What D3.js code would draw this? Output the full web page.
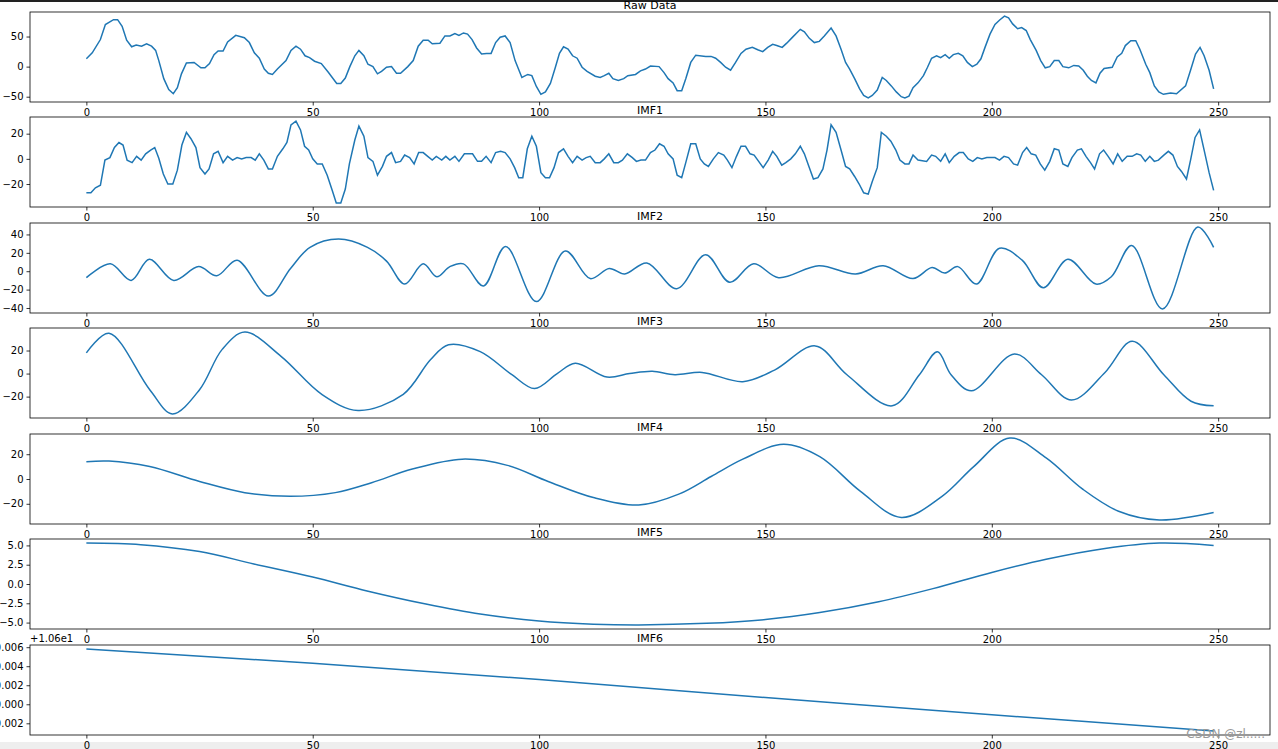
<!DOCTYPE html>
<html>
<head>
<meta charset="utf-8">
<script src="https://cdn.jsdelivr.net/npm/d3@7"></script>
<style>
body { margin: 0; background: #fff; }
text { font-family: "DejaVu Sans", sans-serif; }
</style>
</head>
<body>
<svg id="chart" width="1278" height="749"></svg>
<script>
// values, [sample index, value]
var rawData = [[0,13],[1.3,23],[3.1,45],[4.2,70],[6,78],[6.9,78],[7.9,67],[8.9,44],[10,33],[11,36],[12.2,34],[13.3,38],[14.4,34],[15.3,27],[16,10],[17.1,-20],[18.2,-38],[19.2,-45],[20.1,-35],[21,-12],[22.1,6],[23.8,7],[25.3,-2],[26.2,-2],[27.2,5],[28.2,20],[29.1,26],[30.2,26],[31.2,41],[33,52],[34.9,48],[36,40],[37.1,23],[38.2,14],[39.3,-4],[40.2,-11],[41.1,-13],[42.2,-4],[44.1,10],[45.2,27],[46.3,34],[47.3,29],[48.3,18],[49.3,15],[50.4,9],[51.9,5],[53.4,-9],[55.3,-28],[56.2,-28],[57.2,-19],[58.2,0],[59.3,18],[60.2,27],[61.3,18],[62.2,4],[63.3,0],[64.3,-12],[65.2,-8],[66.3,-1],[67.4,0],[68.5,-11],[69.4,-11],[71,0],[72.2,10],[73.3,34],[74.4,44],[75.5,44],[76.4,38],[78.1,39],[79.2,51],[80.3,51],[81.4,55],[82.3,52],[83.3,56],[84.2,54],[85.2,45],[86.2,31],[87.3,21],[88.4,22],[89.4,22],[90.4,40],[91.4,49],[92.5,51],[93.6,40],[94.7,10],[96.2,-18],[97.5,-13],[98.4,-15],[99.4,-33],[100.4,-46],[101.4,-42],[102.5,-28],[103.6,-1],[104.5,22],[105.4,33],[106.4,29],[107.4,18],[108.4,14],[109.5,-1],[110.6,-8],[112.4,-16],[113.5,-18],[114.4,-15],[115.4,-11],[116.3,-20],[117.5,-23],[118.7,-20],[119.6,-15],[121.3,-13],[122.4,-7],[123.5,-4],[124.6,1],[126.5,0],[127.6,-10],[128.5,-20],[129.6,-27],[130.5,-40],[131.5,-40],[132.4,-20],[133.5,7],[134.6,19],[136.8,17],[138,17],[139,14],[140.1,7],[141.2,-1],[142.3,-6],[143.4,7],[144.6,22],[145.7,29],[147.1,32],[148.3,28],[149.4,25],[150.5,32],[151.6,37],[152.5,35],[153.7,32],[154.7,39],[156,49],[157.7,62],[158.6,58],[159.7,47],[160.8,40],[161.9,42],[163,51],[164.5,64],[165.6,51],[166.7,29],[167.7,7],[168.6,-4],[169.7,-20],[170.8,-37],[171.7,-48],[172.7,-52],[173.6,-48],[174.7,-39],[175.8,-18],[176.7,-23],[177.8,-32],[178.9,-42],[180,-50],[180.8,-52],[181.7,-49],[182.6,-35],[183.7,-27],[184.9,-15],[185.8,-1],[186.7,14],[187.8,18],[188.7,15],[189.7,20],[190.6,14],[191.5,20],[192.6,22],[193.6,18],[194.6,7],[195.7,0],[196.7,4],[197.6,13],[198.5,32],[199.6,54],[200.7,70],[201.8,78],[202.8,84],[203.7,81],[204.6,71],[205.7,63],[206.6,65],[207.6,60],[208.5,45],[209.8,27],[210.8,10],[211.8,-2],[212.8,0],[213.8,10],[214.8,10],[215.7,0],[217,-2],[218.1,2],[219.2,1],[220.2,-6],[221.1,-16],[222,-23],[223,-27],[223.9,-11],[224.8,-3],[226.6,-1],[227.7,16],[228.7,22],[229.5,35],[230.7,43],[231.8,43],[232.7,29],[234,4],[234.9,-10],[235.9,-32],[236.9,-42],[237.9,-46],[239.5,-44],[240.8,-45],[242.8,-32],[243.9,-6],[245,21],[246,32],[246.9,18],[248,-6],[249,-37]];

var imf1 = [[0,-27],[1,-27],[2,-23],[3.1,-21],[4.1,-1],[5.2,1],[6.2,9],[7.2,13],[8.1,11],[9,-1],[10.1,-3],[11.1,2],[12.1,-1],[13.1,4],[14.2,7],[15.1,9],[16,0.5],[17,-12],[18,-20],[19.1,-20],[20.1,-9],[21.1,11],[22.1,21],[23.1,16],[24.2,9],[25.1,-7],[26.2,-12],[27.1,-8],[28.1,4],[29.1,6],[30.2,-3],[31.2,2],[32.3,-1],[33.3,1],[34.3,0],[35.3,1],[36.4,1],[37.3,-1],[38.2,4],[39.2,-1],[40.2,-8],[41.1,-8],[42.2,2],[43.4,8],[44.3,13],[45.2,27],[46.3,30],[47.3,23],[48.2,10],[49.1,7],[50,0],[51,-4],[52.1,-4],[53.2,-13],[54.3,-25],[55.2,-35],[56.2,-35],[57.2,-24],[58.1,-4],[59.3,15],[60.2,26],[61.3,18],[62.2,1],[63.3,-2],[64.3,-13],[65.4,-6],[66.3,2],[67.4,5],[68.3,-3],[69.4,-2],[70.3,3],[71.4,1],[72.4,-4],[73.4,5],[74.4,5],[75.4,2],[76.4,-1],[77.3,2],[78.5,-1],[79.4,2],[80.3,-1],[81.4,2],[82.3,-2],[83.5,4],[85.3,4],[86.4,-2],[87.3,-2],[88.3,2],[89.4,-3],[90.4,5],[91.5,6],[92.5,5],[93.6,0],[94.6,-7],[95.5,-15],[96.4,-15],[97.4,8],[98.4,18],[99.4,10],[100.4,-11],[101.4,-15],[102.3,-15],[103.3,-7],[104.3,5],[105.4,8],[106.4,2],[107.4,-3],[108.4,2],[109.5,-1],[110.4,1],[111.3,2],[112.4,-3],[113.5,-3],[114.4,0],[115.4,4],[116.5,-3],[117.5,-3],[118.4,-1],[119.5,4],[120.6,1],[121.5,-2],[122.5,-1],[123.5,-1],[124.6,5],[125.6,7],[126.6,12],[127.6,10],[128.5,4],[129.6,0],[130.5,-13],[131.5,-15],[132.4,-3],[133.5,12],[134.6,12],[135.6,0],[136.5,-4],[137.4,-6],[138.5,0],[139.6,5],[140.8,3],[141.6,-1],[142.6,-7],[143.6,2],[144.6,10],[145.6,10],[146.6,4],[147.5,3],[148.5,-2],[149.5,-7],[150.6,-1],[151.6,6],[152.5,2],[153.6,-5],[154.5,-3],[155.6,0],[156.6,4],[157.7,10],[158.6,4],[159.6,-6],[160.6,-16],[161.6,-15],[162.7,-8],[163.6,7],[164.5,27],[165.6,21],[166.7,7],[167.7,-6],[168.6,-8],[169.7,-14],[170.7,-20],[171.7,-27],[172.7,-28],[173.6,-18],[174.7,-7],[175.6,21],[176.7,18],[177.7,14],[178.8,7],[179.7,-1],[180.8,-4],[181.7,-4],[182.6,3],[183.7,-1],[185.6,-2],[186.7,3],[187.6,2],[188.7,-2],[189.7,4],[190.6,-3],[191.7,2],[192.8,5],[193.7,5],[194.8,0],[195.8,-2],[196.8,1],[197.8,0],[198.9,1],[200.7,1],[201.7,-1],[202.7,2],[203.7,1],[204.8,-4],[205.7,-5],[206.8,5],[207.7,9],[208.7,4],[209.7,3],[210.7,-4],[211.7,-9],[212.8,-2],[213.8,8],[214.8,7],[215.7,-4],[216.8,-6],[217.7,1],[218.9,7],[219.8,8],[220.8,2],[221.8,-3],[222.7,-8],[223.8,4],[224.7,7],[225.7,2],[226.8,-4],[227.8,4],[228.8,-2],[229.9,2],[231,2],[232,4],[232.9,3],[233.9,-2],[234.9,2],[235.9,-2],[236.8,-1],[238,3],[239,6],[240,3],[241,-6],[241.9,-10],[243,-16],[243.9,-1],[244.9,17],[245.9,23],[246.9,7],[248,-11],[249,-25]];

var imf2 = [[0,-7],[5.3,8],[9.9,-10],[13.9,13],[19.3,-10],[24.8,5],[28.8,-5],[33.3,12],[40.2,-27],[45.1,3],[49.4,26],[55.7,35],[62.1,26],[66.3,11],[70.3,-14],[74.4,8],[77.4,-6],[80.3,5],[83.3,8],[87.7,-16],[92.6,27],[99.4,-33],[105.8,22],[111.3,-8],[115.5,3],[118.9,-3],[123.8,9],[130.4,-19],[136.8,18],[142.1,-12],[147.4,8],[152.9,-7],[161.8,6],[169.9,-3],[176,6],[182.6,-8],[186.8,4],[189.6,-2],[192.5,5],[196.6,-14],[201.7,25],[206.7,12],[211.4,-18],[216.8,13],[223,-14],[226.4,-6],[230.9,28],[237.7,-41],[245.5,48],[249,26]];

var imf3 = [[0,18],[5,35],[14,-14],[19,-35],[25,-14],[30,21],[35,36],[43,15],[52,-18],[60,-32],[70,-18],[76,12],[80,25],[87,19],[94,-1],[99,-13],[104,0],[108,9],[115,-3],[120,0],[125,2],[130,-1],[136,1],[145,-7],[152,3],[161,24],[168,-1],[178,-28],[184,-1],[188,19],[191,-1],[195.5,-15],[205,17],[211,-1],[217.6,-23],[225,1],[231,28],[238,-1],[244,-24],[249,-28]];

var imf4 = [[0,14],[5,14.5],[14,10],[25,-2],[35,-11],[45,-14],[55,-11],[63,-3],[72,8],[83,16],[93,11],[102,-2],[112,-15],[122,-21],[131,-12],[138,2],[145,16],[154,28],[162,18],[171,-10],[180,-31],[189,-14],[196,10],[204,33],[212,17],[220,-8],[228,-26],[237,-33],[249,-27]];

var imf5 = [[0,5.3],[12,5.1],[25,4.2],[37,2.6],[50,0.9],[62,-0.9],[75,-2.6],[87,-3.9],[100,-4.8],[112,-5.2],[122,-5.3],[137,-5.1],[150,-4.6],[162,-3.7],[175,-2.3],[187,-0.6],[200,1.5],[212,3.2],[225,4.6],[237,5.3],[249,5.0]];

// offset +10.6 shown on the axis
var imf6 = [[0,0.0058],[50,0.0043],[100,0.0026],[150,0.0007],[200,-0.0011],[249,-0.0028]];

var panelTitles = ["Raw Data", "IMF1", "IMF2", "IMF3", "IMF4", "IMF5", "IMF6"];
var xTicks = [0, 50, 100, 150, 200, 250];
var yTicks = [
  [-50, 0, 50],
  [-20, 0, 20],
  [-40, -20, 0, 20, 40],
  [-20, 0, 20],
  [-20, 0, 20],
  [-5, -2.5, 0, 2.5, 5],
  [-0.002, 0, 0.002, 0.004, 0.006]
];
var yFormats = [d3.format("d"), d3.format("d"), d3.format("d"), d3.format("d"), d3.format("d"), d3.format(".1f"), d3.format(".3f")];

var series = [rawData, imf1, imf2, imf3, imf4, imf5, imf6];
var smooth = d3.curveCatmullRom.alpha(0.5);
var curves = [d3.curveLinear, d3.curveLinear, smooth, smooth, smooth, smooth, smooth];

var svg = d3.select("#chart");
var left = 30, right = 1270, ph = 90;
var tops = [12, 117, 223, 328, 434, 539, 645];

svg.append("rect").attr("x", 0).attr("y", 0).attr("width", 1278).attr("height", 2).attr("fill", "#222");
svg.append("rect").attr("x", 0).attr("y", 742).attr("width", 1278).attr("height", 7).attr("fill", "#eee");

var x = d3.scaleLinear().domain([-12.45, 261.45]).range([left, right]);

series.forEach(function(data, k) {
  var top = tops[k];
  var ext = d3.extent(data, function(d) { return d[1]; });
  var pad = (ext[1] - ext[0]) * 0.05;
  var y = d3.scaleLinear().domain([ext[0] - pad, ext[1] + pad]).range([top + ph, top]);
  var g = svg.append("g");

  g.append("path")
    .datum(data)
    .attr("fill", "none")
    .attr("stroke", "#1f77b4")
    .attr("stroke-width", 1.5)
    .attr("d", d3.line().x(function(d) { return x(d[0]); }).y(function(d) { return y(d[1]); }).curve(curves[k]));

  var xa = g.append("g").attr("transform", "translate(0," + (top + ph) + ")")
    .call(d3.axisBottom(x).tickValues(xTicks).tickSize(3.5).tickPadding(3).tickFormat(d3.format("d")));
  var ya = g.append("g").attr("transform", "translate(" + left + ",0)")
    .call(d3.axisLeft(y).tickValues(yTicks[k]).tickSize(3.5).tickPadding(3)
      .tickFormat(function(v) { return yFormats[k](v).replace("-", "\u2212"); }));
  [xa, ya].forEach(function(a) {
    a.select(".domain").remove();
    a.selectAll("text").attr("font-size", 10).attr("fill", "#000").style("font-family", "DejaVu Sans");
    a.selectAll("line").attr("stroke", "#000").attr("stroke-width", 0.8);
  });

  g.append("rect").attr("x", left).attr("y", top).attr("width", right - left).attr("height", ph)
    .attr("fill", "none").attr("stroke", "#000").attr("stroke-width", 0.8);

  g.append("text").attr("x", (left + right) / 2).attr("y", top - 3)
    .attr("text-anchor", "middle").attr("font-size", 11).text(panelTitles[k]);
});

svg.append("text").attr("x", 30).attr("y", 642).attr("font-size", 10).text("+1.06e1");
svg.append("text").attr("x", 1265).attr("y", 738).attr("text-anchor", "end")
  .attr("font-size", 12).attr("fill", "#999").text("CSDN @zl.....");
</script>
</body>
</html>
